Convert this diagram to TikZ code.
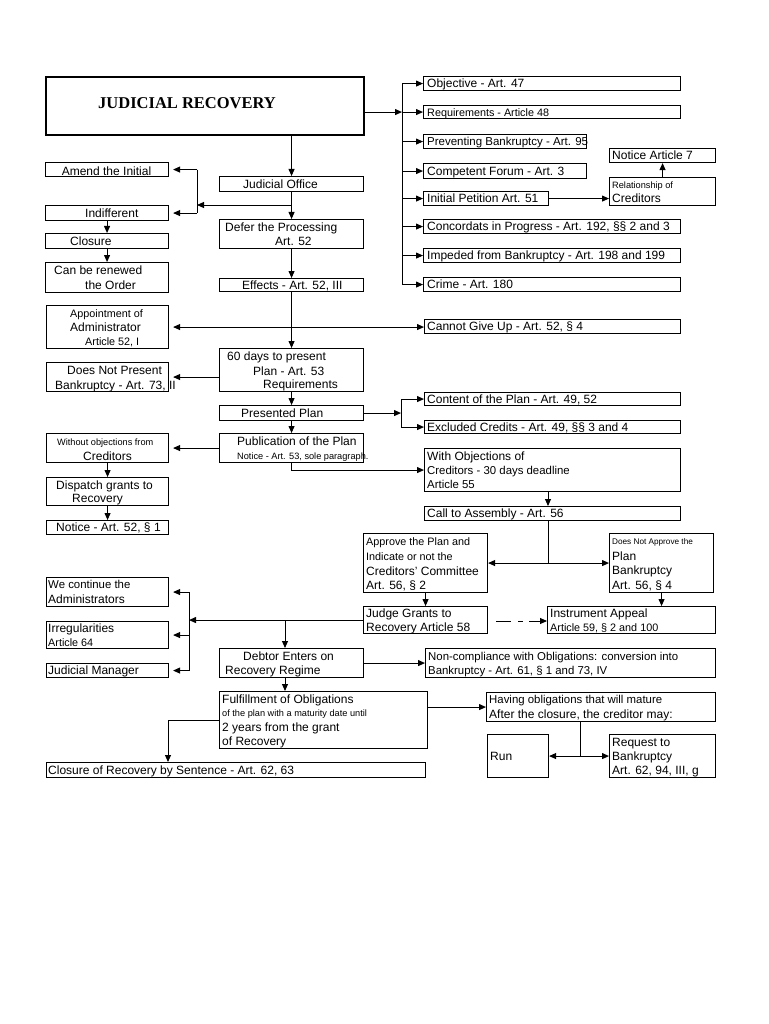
\documentclass[tikz,border=0pt]{standalone}
\usepackage{fontspec}
\setmainfont{Liberation Sans}
\newfontfamily\jrserif{Liberation Serif}
\usetikzlibrary{arrows.meta}
\newcommand\szA{\fontsize{12}{14}\selectfont}
\newcommand\szB{\fontsize{10.8}{13}\selectfont}
\newcommand\szC{\fontsize{9.2}{11}\selectfont}
\newcommand\szD{\fontsize{8.2}{10}\selectfont}
\newcommand\szE{\fontsize{11.4}{13}\selectfont}
\tikzset{
  box/.style={draw, line width=1.1pt, inner sep=0pt, fill=white},
  txt/.style={anchor=mid west, inner sep=0pt, font=\szA, yshift=-2.2pt},
  con/.style={line width=0.9pt},
  arr/.style={con, -{Triangle[length=7pt,width=6pt]}},
  darr/.style={con, {Triangle[length=7pt,width=6pt]}-{Triangle[length=7pt,width=6pt]}},
  lft/.style={shorten >=4pt},
}
\newcommand\bx[6][]{\node[box,#1,anchor=north west,minimum width={(#5-#3)*1pt},minimum height={(#6-#4)*1pt}] (#2) at (#3,#4) {};}
\newcommand\tl[5][]{\node[txt,#1] (#2) at (#3,#4) {#5};}
\begin{document}
\begin{tikzpicture}[x=1pt,y=-1pt]
\useasboundingbox[fill=white] (0,0) rectangle (768,1024);
% ---------- boxes ----------
\bx[line width=1.7pt]{jr}{45}{76}{363}{134}
\bx{obj}{423}{76}{680}{90}
\bx{req}{423}{105}{680}{118}
\bx{prev}{423}{134}{586}{148}
\bx{comp}{423}{163}{586}{178}
\bx{init}{423}{191}{548}{205}
\bx{conc}{423}{219}{680}{233}
\bx{imp}{423}{248}{680}{262}
\bx{crime}{423}{277}{680}{291}
\bx{nseven}{609}{148}{715}{162}
\bx{rel}{609}{177}{715}{205}
\bx{amend}{45}{162}{168}{176}
\bx{indiff}{45}{205}{168}{220}
\bx{closure}{45}{233}{168}{248}
\bx{renew}{45}{262}{168}{292}
\bx{jo}{219}{176}{363}{191}
\bx{defer}{219}{219}{363}{248}
\bx{eff}{219}{278}{363}{291}
\bx{appt}{46}{305}{168}{348}
\bx{sixty}{219}{348}{363}{391}
\bx{dnp}{46}{362}{168}{391}
\bx{pres}{219}{405}{363}{420}
\bx{pub}{219}{433}{363}{462}
\bx{wo}{46}{433}{168}{462}
\bx{disp}{46}{477}{168}{505}
\bx{notf}{46}{520}{168}{534}
\bx{cgu}{424}{319}{680}{333}
\bx{content}{424}{392}{680}{405}
\bx{excl}{424}{420}{680}{433}
\bx{wobj}{424}{448}{680}{491}
\bx{call}{424}{506}{680}{520}
\bx{appr}{363}{533}{487}{592}
\bx{dna}{609}{533}{713}{592}
\bx{judge}{363}{606}{487}{633}
\bx{instr}{547}{606}{715}{633}
\bx{noncomp}{425}{648}{715}{677}
\bx{having}{486}{692}{715}{721}
\bx{run}{487}{734}{548}{777}
\bx{reqb}{609}{734}{715}{777}
\bx{wca}{46}{577}{168}{606}
\bx{irr}{46}{621}{168}{648}
\bx{jm}{46}{663}{168}{677}
\bx{debtor}{219}{648}{363}{677}
\bx{ful}{219}{691}{427}{748}
\bx{cltwo}{46}{762}{425}{777}
% ---------- texts ----------
\tl[font={\jrserif\bfseries\fontsize{16.5}{18}\selectfont}]{jr-t}{98}{104}{JUDICIAL RECOVERY}
\tl{obj-t}{427}{83}{Objective - Art. 47}
\tl[font=\szB]{req-t}{427}{111.5}{Requirements - Article 48}
\tl[font={\fontsize{11.5}{13}\selectfont}]{prev-t}{427}{141}{Preventing Bankruptcy - Art. 95}
\tl{comp-t}{427}{170.5}{Competent Forum - Art. 3}
\tl{init-t}{427}{198}{Initial Petition Art. 51}
\tl{conc-t}{427}{226}{Concordats in Progress - Art. 192, §§ 2 and 3}
\tl{imp-t}{427}{255}{Impeded from Bankruptcy - Art. 198 and 199}
\tl{crime-t}{427}{284}{Crime - Art. 180}
\tl{nseven-t}{612}{155}{Notice Article 7}
\tl[font=\szC]{rel-t1}{612}{184}{Relationship of}
\tl{rel-t2}{612}{198}{Creditors}
\tl[anchor=center]{amend-t}{106.5}{169}{Amend the Initial}
\tl{indiff-t}{85}{212.5}{Indifferent}
\tl{closure-t}{70}{240.5}{Closure}
\tl{renew-t1}{54}{270}{Can be renewed}
\tl{renew-t2}{85}{285}{the Order}
\tl{jo-t}{243}{183.5}{Judicial Office}
\tl{defer-t1}{225}{227}{Defer the Processing}
\tl{defer-t2}{275}{241}{Art. 52}
\tl{eff-t}{242}{284.5}{Effects - Art. 52, III}
\tl[font=\szB]{appt-t1}{70}{313}{Appointment of}
\tl{appt-t2}{70}{327}{Administrator}
\tl[font=\szB]{appt-t3}{85}{341}{Article 52, I}
\tl{sixty-t1}{227}{356}{60 days to present}
\tl{sixty-t2}{253}{371}{Plan - Art. 53}
\tl{sixty-t3}{263}{384}{Requirements}
\tl{dnp-t1}{67}{370}{Does Not Present}
\tl{dnp-t2}{55}{385}{Bankruptcy - Art. 73, II}
\tl{pres-t}{241}{412.5}{Presented Plan}
\tl{pub-t1}{237}{441}{Publication of the Plan}
\tl[font=\szC]{pub-t2}{237}{455}{Notice - Art. 53, sole paragraph.}
\tl[font=\szC]{wo-t1}{57}{441}{Without objections from}
\tl{wo-t2}{83}{456}{Creditors}
\tl{disp-t1}{56}{485}{Dispatch grants to}
\tl{disp-t2}{72}{498}{Recovery}
\tl{notf-t}{56}{527}{Notice - Art. 52, § 1}
\tl{cgu-t}{427}{326}{Cannot Give Up - Art. 52, § 4}
\tl{content-t}{427}{398.5}{Content of the Plan - Art. 49, 52}
\tl{excl-t}{427}{426.5}{Excluded Credits - Art. 49, §§ 3 and 4}
\tl{wobj-t1}{427}{456}{With Objections of}
\tl[font=\szE]{wobj-t2}{427}{470}{Creditors - 30 days deadline}
\tl[font=\szE]{wobj-t3}{427}{484}{Article 55}
\tl{call-t}{427}{513}{Call to Assembly - Art. 56}
\tl[font=\szB]{appr-t1}{366}{541}{Approve the Plan and}
\tl[font=\szB]{appr-t2}{366}{556}{Indicate or not the}
\tl{appr-t3}{366}{571}{Creditors' Committee}
\tl{appr-t4}{366}{585}{Art. 56, § 2}
\tl[font=\szD]{dna-t1}{612}{540}{Does Not Approve the}
\tl{dna-t2}{612}{556}{Plan}
\tl{dna-t3}{612}{570}{Bankruptcy}
\tl{dna-t4}{612}{585}{Art. 56, § 4}
\tl{judge-t1}{366}{613}{Judge Grants to}
\tl{judge-t2}{366}{627}{Recovery Article 58}
\tl{instr-t1}{550}{613}{Instrument Appeal}
\tl[font=\szB]{instr-t2}{550}{627}{Article 59, § 2 and 100}
\tl[font=\szE]{noncomp-t1}{428}{656}{Non-compliance with Obligations: conversion into}
\tl[font=\szE]{noncomp-t2}{428}{670}{Bankruptcy - Art. 61, § 1 and 73, IV}
\tl[font=\szE]{having-t1}{489}{699}{Having obligations that will mature}
\tl{having-t2}{489}{714}{After the closure, the creditor may:}
\tl{run-t}{490}{755.5}{Run}
\tl{reqb-t1}{612}{742}{Request to}
\tl{reqb-t2}{612}{756}{Bankruptcy}
\tl{reqb-t3}{612}{770}{Art. 62, 94, III, g}
\tl[font=\szE]{wca-t1}{48}{584}{We continue the}
\tl{wca-t2}{48}{599}{Administrators}
\tl{irr-t1}{48}{628}{Irregularities}
\tl[font=\szB]{irr-t2}{48}{642}{Article 64}
\tl{jm-t}{48}{670}{Judicial Manager}
\tl{debtor-t1}{243}{656}{Debtor Enters on}
\tl{debtor-t2}{225}{670}{Recovery Regime}
\tl{ful-t1}{222}{699}{Fulfillment of Obligations}
\tl[font=\szC]{ful-t2}{222}{712}{of the plan with a maturity date until}
\tl{ful-t3}{222}{727}{2 years from the grant}
\tl{ful-t4}{222}{741}{of Recovery}
\tl{cltwo-t}{48}{769.5}{Closure of Recovery by Sentence - Art. 62, 63}
% ---------- junction coordinates ----------
\coordinate (busr) at (402,0);
\coordinate (brl) at (197,0);
\coordinate (brp) at (401,0);
\coordinate (vx) at (548,0);
\coordinate (brj) at (189,0);
\coordinate (dx) at (285,0);
\coordinate (hx) at (580,0);
\coordinate (clx) at (168,0);
% ---------- connectors ----------
% right bus
\draw[con] (busr |- obj.west) -- (busr |- crime.west);
\draw[arr] (jr.east |- req.west) -- (busr |- req.west);
\foreach \n in {obj,req,prev,comp,init,conc,imp,crime}
  \draw[arr] (busr |- \n.west) -- (\n.west);
\draw[arr] (init.east) -- (init.east -| rel.west);
\draw[arr] (rel.north) -- (nseven.south);
% centre column
\draw[arr] (jr.south -| jo.north) -- (jo.north);
\draw[arr] (jo.south) -- (defer.north);
\draw[arr] (jo.south |- 0,205) -- (brl |- 0,205);
\draw[con] (brl |- amend.east) -- (brl |- indiff.east);
\draw[arr,lft] (brl |- amend.east) -- (amend.east);
\draw[arr,lft] (brl |- indiff.east) -- (indiff.east);
\draw[arr] (indiff.south) -- (closure.north);
\draw[arr] (closure.south) -- (renew.north);
\draw[arr] (defer.south) -- (eff.north);
\draw[arr] (eff.south) -- (sixty.north);
\draw[darr,shorten <=4pt] (appt.east) -- (appt.east -| cgu.west);
\draw[arr,lft] (sixty.west |- dnp.east) -- (dnp.east);
\draw[arr] (sixty.south) -- (pres.north);
\draw[arr] (pres.south) -- (pub.north);
\draw[arr] (pres.east) -- (brp |- pres.east);
\draw[con] (brp |- content.west) -- (brp |- excl.west);
\draw[arr] (brp |- content.west) -- (content.west);
\draw[arr] (brp |- excl.west) -- (excl.west);
\draw[arr,lft] (pub.west |- wo.east) -- (wo.east);
\draw[arr] (wo.south) -- (disp.north);
\draw[arr] (disp.south) -- (notf.north);
\draw[arr] (pub.south) |- (wobj.west);
\draw[arr] (vx |- wobj.south) -- (vx |- call.north);
\draw[con] (vx |- call.south) -- (vx |- appr.east);
\draw[darr] (appr.east) -- (appr.east -| dna.west);
\draw[arr] (appr.south) -- (judge.north);
\draw[arr] (dna.south) -- (dna.south |- instr.north);
\draw[arr,dash pattern=on 15pt off 7pt on 5pt off 6pt,shorten <=8pt] (judge.east |- 0,621) -- (instr.west |- 0,621);
\draw[arr] (judge.west) -- (brj |- judge.west);
\draw[con] (brj |- wca.east) -- (brj |- jm.east);
\draw[arr,lft] (brj |- wca.east) -- (wca.east);
\draw[arr,lft] (brj |- irr.east) -- (irr.east);
\draw[arr,lft] (brj |- jm.east) -- (jm.east);
\draw[arr] (dx |- judge.west) -- (dx |- debtor.north);
\draw[arr] (debtor.east) -- (debtor.east -| noncomp.west);
\draw[arr] (dx |- debtor.south) -- (dx |- ful.north);
\draw[arr] (having.west -| ful.east) -- (having.west);
\draw[con] (hx |- having.south) -- (hx |- run.east);
\draw[darr] (run.east) -- (run.east -| reqb.west);
\draw[arr] (ful.west) -| (clx |- cltwo.north);
\end{tikzpicture}
\end{document}
